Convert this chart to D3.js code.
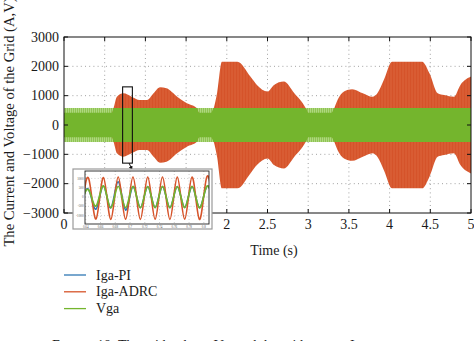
<!DOCTYPE html>
<html><head><meta charset="utf-8">
<script src="https://cdn.jsdelivr.net/npm/d3@7"></script>
<style>
body{margin:0;background:#fff}
svg{display:block}
text{font-family:"Liberation Serif","Times New Roman",serif;fill:#1a1a1a}
</style>
</head><body>
<svg id="c" width="474" height="341"></svg>
<script>
// ---------- data ----------
const xTicks = [0, 0.5, 1, 1.5, 2, 2.5, 3, 3.5, 4, 4.5, 5];
const xTickLabels = ["0", "0.5", "1", "1.5", "2", "2.5", "3", "3.5", "4", "4.5", "5"];
const yTicks = [-3000, -2000, -1000, 0, 1000, 2000, 3000];
const yTickLabels = ["\u22123000", "\u22122000", "\u22121000", "0", "1000", "2000", "3000"];

// envelope of the Iga-ADRC current band (time s, amplitude A)
const envTime = [0, 0.59, 0.61, 0.65, 0.73, 0.83, 0.93, 1.02, 1.10, 1.18, 1.26, 1.39, 1.51, 1.63, 1.66, 1.81, 1.84, 1.88, 1.94, 2.13, 2.29, 2.37, 2.50, 2.58, 2.70, 2.83, 2.97, 3.00, 3.29, 3.32, 3.36, 3.44, 3.54, 3.67, 3.79, 3.85, 3.93, 4.03, 4.40, 4.49, 4.59, 4.67, 4.79, 4.87, 5.00];
const adrcAmp = [400, 400, 580, 965, 1080, 965, 850, 850, 1080, 1285, 1250, 965, 740, 580, 400, 400, 580, 1080, 2160, 2160, 1650, 1365, 1140, 1365, 1480, 1080, 570, 400, 400, 570, 850, 1140, 1220, 1080, 960, 1080, 1540, 2160, 2160, 1760, 1080, 1020, 960, 1365, 1650];
const vgaAmp = 580;      // Vga band amplitude
const vgaCoreAmp = 420;  // dense core of the Vga band

// zoomed window: values at successive extremes (trough, peak, ...)
const insetExtTime = [0.634, 0.644, 0.654, 0.664, 0.674, 0.684, 0.694, 0.704, 0.714, 0.724, 0.734, 0.744, 0.754, 0.764, 0.774, 0.784, 0.794, 0.804, 0.814];
const insetPI   = [-420, 400, -650, 590, -580, 820, -700, 560, -570, 560, -560, 560, -570, 560, -560, 560, -570, 560, -560];
const insetADRC = [-1050, 1000, -1180, 1050, -1200, 1080, -1190, 1080, -1200, 1070, -1190, 1080, -1200, 1070, -1190, 1080, -1200, 1080, -1190];
const insetVga  = [-400, 380, -480, 600, -580, 580, -570, 580, -580, 570, -570, 580, -580, 570, -570, 580, -580, 570, -570];
const insetXTicks = [0.64, 0.66, 0.68, 0.7, 0.72, 0.74, 0.76, 0.78, 0.8];
const insetYTicks = [-1000, -500, 0, 500, 1000];

const legendLabels = ["Iga-PI", "Iga-ADRC", "Vga"];
const seriesColors = ["#2f78b4", "#d6542a", "#74b52d"];

// ---------- drawing ----------
const svg = d3.select("#c");
const m = {l: 64, r: 471, t: 37, b: 213};
const x = d3.scaleLinear([0, 5], [m.l, m.r]);
const y = d3.scaleLinear([-3000, 3000], [m.b, m.t]);

const defs = svg.append("defs");
defs.append("clipPath").attr("id", "plotclip").append("rect")
  .attr("x", m.l).attr("y", m.t).attr("width", m.r - m.l).attr("height", m.b - m.t);
const pat = defs.append("pattern").attr("id", "orangeTex").attr("patternUnits", "userSpaceOnUse")
  .attr("width", 3).attr("height", 20);
pat.append("rect").attr("width", 3).attr("height", 20).attr("fill", "#d5532a");
pat.append("line").attr("x1", 1).attr("x2", 1).attr("y1", 0).attr("y2", 20)
  .attr("stroke", "#de6c45").attr("stroke-width", 0.7);
const gpat = defs.append("pattern").attr("id", "greenTex").attr("patternUnits", "userSpaceOnUse")
  .attr("width", 2).attr("height", 20);
gpat.append("rect").attr("width", 2).attr("height", 20).attr("fill", "#8fc552");
gpat.append("line").attr("x1", 0.5).attr("x2", 0.5).attr("y1", 0).attr("y2", 20)
  .attr("stroke", "#c4e2a0").attr("stroke-width", 0.6);

// grid
const grid = svg.append("g").attr("stroke", "#8a8a8a").attr("stroke-width", 0.8).attr("stroke-dasharray", "1,3.2");
xTicks.slice(1, -1).forEach(t => grid.append("line").attr("x1", x(t)).attr("x2", x(t)).attr("y1", m.t).attr("y2", m.b));
yTicks.slice(1, -1).forEach(v => grid.append("line").attr("x1", m.l).attr("x2", m.r).attr("y1", y(v)).attr("y2", y(v)));

// bands
const plot = svg.append("g").attr("clip-path", "url(#plotclip)");
const env = envTime.map((t, i) => ({t, a: adrcAmp[i]}));
plot.append("rect").attr("x", x(0)).attr("width", x(5) - x(0))
  .attr("y", y(vgaAmp)).attr("height", y(-vgaAmp) - y(vgaAmp)).attr("fill", "url(#greenTex)");
plot.append("path").datum(env)
  .attr("d", d3.area().x(d => x(d.t)).y0(d => y(-d.a)).y1(d => y(d.a)).curve(d3.curveMonotoneX))
  .attr("fill", "url(#orangeTex)");
plot.append("path").datum(env)
  .attr("d", d3.area().x(d => x(d.t))
    .y0(d => y(-Math.max(vgaCoreAmp, Math.min(vgaAmp, d.a))))
    .y1(d => y(Math.max(vgaCoreAmp, Math.min(vgaAmp, d.a)))).curve(d3.curveMonotoneX))
  .attr("fill", seriesColors[2]);

// frame and ticks
svg.append("rect").attr("x", m.l).attr("y", m.t).attr("width", m.r - m.l).attr("height", m.b - m.t)
  .attr("fill", "none").attr("stroke", "#111").attr("stroke-width", 1);
const tk = svg.append("g").attr("stroke", "#111").attr("stroke-width", 1);
xTicks.forEach(t => {
  tk.append("line").attr("x1", x(t)).attr("x2", x(t)).attr("y1", m.b).attr("y2", m.b - 4);
  tk.append("line").attr("x1", x(t)).attr("x2", x(t)).attr("y1", m.t).attr("y2", m.t + 4);
});
yTicks.forEach(v => {
  tk.append("line").attr("x1", m.l).attr("x2", m.l + 4).attr("y1", y(v)).attr("y2", y(v));
  tk.append("line").attr("x1", m.r).attr("x2", m.r - 4).attr("y1", y(v)).attr("y2", y(v));
});
// labels hidden behind the zoom inset (0.5, 1, 1.5) are not drawn
xTicks.forEach((t, i) => {
  if (t > 0 && t < 2) return;
  svg.append("text").attr("x", x(t)).attr("y", 229).attr("text-anchor", "middle")
    .attr("font-size", 14).text(xTickLabels[i]);
});
yTicks.forEach((v, i) => svg.append("text").attr("x", 59).attr("y", y(v) + 4.6).attr("text-anchor", "end")
  .attr("font-size", 14).text(yTickLabels[i]));

svg.append("text").attr("x", 274).attr("y", 255).attr("text-anchor", "middle").attr("font-size", 14).text("Time (s)");
svg.append("text").attr("transform", "translate(13.5,122) rotate(-90)").attr("text-anchor", "middle")
  .attr("font-size", 14.6).text("The Current and Voltage of the Grid (A,V)");

// callout rectangle + arrow
svg.append("rect").attr("x", x(0.72)).attr("y", y(1300)).attr("width", x(0.84) - x(0.72)).attr("height", y(-1300) - y(1300))
  .attr("fill", "none").attr("stroke", "#111").attr("stroke-width", 1.1);
defs.append("marker").attr("id", "arr").attr("viewBox", "0 0 6 6").attr("refX", 5).attr("refY", 3)
  .attr("markerWidth", 4).attr("markerHeight", 4).attr("orient", "auto")
  .append("path").attr("d", "M0,0L6,3L0,6Z").attr("fill", "#111");
svg.append("line").attr("x1", 129).attr("y1", 163).attr("x2", 132).attr("y2", 169.5)
  .attr("stroke", "#111").attr("stroke-width", 1).attr("marker-end", "url(#arr)");

// inset
const ins = {l: 85, r: 209, t: 171, b: 224};
const ix = d3.scaleLinear([0.639, 0.807], [ins.l, ins.r]);
const iy = d3.scaleLinear([-1450, 1400], [ins.b, ins.t]);
svg.append("rect").attr("x", 73).attr("y", 169).attr("width", 139).attr("height", 60)
  .attr("fill", "#fff").attr("stroke", "#9a9a9a").attr("stroke-width", 1.2);
defs.append("clipPath").attr("id", "insclip").append("rect")
  .attr("x", ins.l).attr("y", ins.t).attr("width", ins.r - ins.l).attr("height", ins.b - ins.t);
const ig = svg.append("g").attr("stroke", "#999").attr("stroke-width", 0.6).attr("stroke-dasharray", "0.8,2.4");
insetXTicks.forEach(t => ig.append("line").attr("x1", ix(t)).attr("x2", ix(t)).attr("y1", ins.t).attr("y2", ins.b));
insetYTicks.forEach(v => ig.append("line").attr("x1", ins.l).attr("x2", ins.r).attr("y1", iy(v)).attr("y2", iy(v)));
const ip = svg.append("g").attr("clip-path", "url(#insclip)");
const line = d3.line().x(d => ix(d.t)).y(d => iy(d.v)).curve(d3.curveNatural);
[insetPI, insetADRC, insetVga].forEach((arr, k) => {
  ip.append("path").datum(arr.map((v, i) => ({t: insetExtTime[i], v})))
    .attr("d", line).attr("fill", "none").attr("stroke", seriesColors[k]).attr("stroke-width", 1.6);
});
svg.append("rect").attr("x", ins.l).attr("y", ins.t).attr("width", ins.r - ins.l).attr("height", ins.b - ins.t)
  .attr("fill", "none").attr("stroke", "#222").attr("stroke-width", 0.9);
insetXTicks.forEach(t => svg.append("text").attr("x", ix(t)).attr("y", 227.8).attr("text-anchor", "middle")
  .attr("font-size", 3.2).style("fill", "#555").text(String(t)));
insetYTicks.forEach(v => svg.append("text").attr("x", ins.l - 1.5).attr("y", iy(v) + 1.1).attr("text-anchor", "end")
  .attr("font-size", 3.2).style("fill", "#555").text(String(v)));

// legend
legendLabels.forEach((lab, i) => {
  const ly = 275 + i * 16.8;
  svg.append("line").attr("x1", 64).attr("x2", 86).attr("y1", ly).attr("y2", ly)
    .attr("stroke", seriesColors[i]).attr("stroke-width", 1.3);
  svg.append("text").attr("x", 96).attr("y", ly + 4.6).attr("font-size", 14).text(lab);
});

// caption (cut off at the bottom edge of the picture)
const cap = svg.append("text").attr("x", 52).attr("y", 350).attr("font-size", 14);
cap.append("tspan").text("F");
cap.append("tspan").attr("font-size", 11).text("IGURE");
cap.append("tspan").text(" 18: The grid voltage V");
cap.append("tspan").attr("font-size", 9.5).attr("dy", 3).text("ga");
cap.append("tspan").attr("dy", -3).text(" and the grid current I");
cap.append("tspan").attr("font-size", 9.5).attr("dy", 3).text("ga");
</script>
</body></html>
